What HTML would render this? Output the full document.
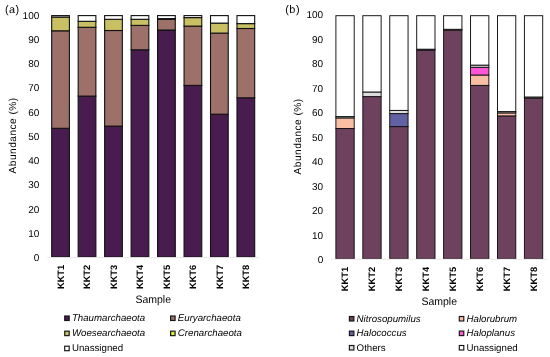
<!DOCTYPE html>
<html lang="en"><head><meta charset="utf-8"><title>Archaeal abundance</title>
<style>html,body{margin:0;padding:0;background:#fff;}body{width:550px;height:357px;overflow:hidden;}svg{display:block;}</style>
</head><body>
<svg width="550" height="357" viewBox="0 0 550 357" font-family='"Liberation Sans", sans-serif' fill="#000" stroke="none" text-rendering="geometricPrecision">
<rect width="550" height="357" fill="#ffffff" stroke="none"/>
<clipPath id="clip51"><rect x="0" y="0" width="550" height="257.30"/></clipPath>
<g clip-path="url(#clip51)" stroke="#101010" stroke-width="1.1">
<rect x="51.70" y="128.30" width="17.7" height="128.90" fill="#481c4e"/>
<rect x="51.70" y="30.80" width="17.7" height="97.50" fill="#9d7169"/>
<rect x="51.70" y="17.10" width="17.7" height="13.70" fill="#c8c062"/>
<rect x="51.70" y="15.60" width="17.7" height="1.50" fill="#ffffff"/>
<rect x="78.17" y="96.10" width="17.7" height="161.10" fill="#481c4e"/>
<rect x="78.17" y="27.30" width="17.7" height="68.80" fill="#9d7169"/>
<rect x="78.17" y="21.30" width="17.7" height="6.00" fill="#c8c062"/>
<rect x="78.17" y="15.60" width="17.7" height="5.70" fill="#ffffff"/>
<rect x="104.64" y="126.10" width="17.7" height="131.10" fill="#481c4e"/>
<rect x="104.64" y="30.50" width="17.7" height="95.60" fill="#9d7169"/>
<rect x="104.64" y="19.30" width="17.7" height="11.20" fill="#c8c062"/>
<rect x="104.64" y="15.60" width="17.7" height="3.70" fill="#ffffff"/>
<rect x="131.11" y="49.80" width="17.7" height="207.40" fill="#481c4e"/>
<rect x="131.11" y="25.40" width="17.7" height="24.40" fill="#9d7169"/>
<rect x="131.11" y="19.30" width="17.7" height="6.10" fill="#c8c062"/>
<rect x="131.11" y="15.60" width="17.7" height="3.70" fill="#ffffff"/>
<rect x="157.58" y="30.00" width="17.7" height="227.20" fill="#481c4e"/>
<rect x="157.58" y="19.30" width="17.7" height="10.70" fill="#9d7169"/>
<rect x="157.58" y="18.60" width="17.7" height="0.70" fill="#c8c062"/>
<rect x="157.58" y="15.60" width="17.7" height="3.00" fill="#ffffff"/>
<rect x="184.05" y="85.40" width="17.7" height="171.80" fill="#481c4e"/>
<rect x="184.05" y="26.10" width="17.7" height="59.30" fill="#9d7169"/>
<rect x="184.05" y="17.60" width="17.7" height="8.50" fill="#c8c062"/>
<rect x="184.05" y="15.60" width="17.7" height="2.00" fill="#ffffff"/>
<rect x="210.52" y="114.20" width="17.7" height="143.00" fill="#481c4e"/>
<rect x="210.52" y="33.10" width="17.7" height="81.10" fill="#9d7169"/>
<rect x="210.52" y="23.10" width="17.7" height="10.00" fill="#c8c062"/>
<rect x="210.52" y="15.60" width="17.7" height="7.50" fill="#ffffff"/>
<rect x="236.99" y="97.80" width="17.7" height="159.40" fill="#481c4e"/>
<rect x="236.99" y="28.50" width="17.7" height="69.30" fill="#9d7169"/>
<rect x="236.99" y="23.60" width="17.7" height="4.90" fill="#c8c062"/>
<rect x="236.99" y="15.60" width="17.7" height="8.00" fill="#ffffff"/>
</g>
<line x1="47.2" y1="257.60" x2="259.0" y2="257.60" stroke="#e4e4e4" stroke-width="0.8"/>
<text x="39.3" y="261.15" text-anchor="end" font-size="10">0</text>
<text x="39.3" y="236.89" text-anchor="end" font-size="10">10</text>
<text x="39.3" y="212.63" text-anchor="end" font-size="10">20</text>
<text x="39.3" y="188.37" text-anchor="end" font-size="10">30</text>
<text x="39.3" y="164.11" text-anchor="end" font-size="10">40</text>
<text x="39.3" y="139.85" text-anchor="end" font-size="10">50</text>
<text x="39.3" y="115.59" text-anchor="end" font-size="10">60</text>
<text x="39.3" y="91.33" text-anchor="end" font-size="10">70</text>
<text x="39.3" y="67.07" text-anchor="end" font-size="10">80</text>
<text x="39.3" y="42.81" text-anchor="end" font-size="10">90</text>
<text x="39.3" y="18.55" text-anchor="end" font-size="10">100</text>
<clipPath id="clip335"><rect x="0" y="0" width="550" height="259.00"/></clipPath>
<g clip-path="url(#clip335)" stroke="#101010" stroke-width="0.95">
<rect x="335.90" y="128.50" width="18.3" height="130.40" fill="#6e425e"/>
<rect x="335.90" y="117.90" width="18.3" height="10.60" fill="#fabea5"/>
<rect x="335.90" y="116.60" width="18.3" height="1.30" fill="#dcdedc"/>
<rect x="335.90" y="15.70" width="18.3" height="100.90" fill="#ffffff"/>
<rect x="362.83" y="96.60" width="18.3" height="162.30" fill="#6e425e"/>
<rect x="362.83" y="92.00" width="18.3" height="4.60" fill="#dcdedc"/>
<rect x="362.83" y="15.70" width="18.3" height="76.30" fill="#ffffff"/>
<rect x="389.76" y="126.60" width="18.3" height="132.30" fill="#6e425e"/>
<rect x="389.76" y="113.60" width="18.3" height="13.00" fill="#6161a4"/>
<rect x="389.76" y="110.40" width="18.3" height="3.20" fill="#dcdedc"/>
<rect x="389.76" y="15.70" width="18.3" height="94.70" fill="#ffffff"/>
<rect x="416.69" y="50.00" width="18.3" height="208.90" fill="#6e425e"/>
<rect x="416.69" y="49.20" width="18.3" height="0.80" fill="#dcdedc"/>
<rect x="416.69" y="15.70" width="18.3" height="33.50" fill="#ffffff"/>
<rect x="443.62" y="30.10" width="18.3" height="228.80" fill="#6e425e"/>
<rect x="443.62" y="29.30" width="18.3" height="0.80" fill="#dcdedc"/>
<rect x="443.62" y="15.70" width="18.3" height="13.60" fill="#ffffff"/>
<rect x="470.55" y="85.40" width="18.3" height="173.50" fill="#6e425e"/>
<rect x="470.55" y="75.00" width="18.3" height="10.40" fill="#fabea5"/>
<rect x="470.55" y="67.30" width="18.3" height="7.70" fill="#ff55d7"/>
<rect x="470.55" y="65.10" width="18.3" height="2.20" fill="#dcdedc"/>
<rect x="470.55" y="15.70" width="18.3" height="49.40" fill="#ffffff"/>
<rect x="497.48" y="115.90" width="18.3" height="143.00" fill="#6e425e"/>
<rect x="497.48" y="112.90" width="18.3" height="3.00" fill="#fabea5"/>
<rect x="497.48" y="111.60" width="18.3" height="1.30" fill="#dcdedc"/>
<rect x="497.48" y="15.70" width="18.3" height="95.90" fill="#ffffff"/>
<rect x="524.41" y="98.20" width="18.3" height="160.70" fill="#6e425e"/>
<rect x="524.41" y="97.00" width="18.3" height="1.20" fill="#dcdedc"/>
<rect x="524.41" y="15.70" width="18.3" height="81.30" fill="#ffffff"/>
</g>
<line x1="331.4" y1="259.30" x2="547.2" y2="259.30" stroke="#e4e4e4" stroke-width="0.8"/>
<text x="323.2" y="263.05" text-anchor="end" font-size="10">0</text>
<text x="323.2" y="238.59" text-anchor="end" font-size="10">10</text>
<text x="323.2" y="214.13" text-anchor="end" font-size="10">20</text>
<text x="323.2" y="189.67" text-anchor="end" font-size="10">30</text>
<text x="323.2" y="165.21" text-anchor="end" font-size="10">40</text>
<text x="323.2" y="140.75" text-anchor="end" font-size="10">50</text>
<text x="323.2" y="116.29" text-anchor="end" font-size="10">60</text>
<text x="323.2" y="91.83" text-anchor="end" font-size="10">70</text>
<text x="323.2" y="67.37" text-anchor="end" font-size="10">80</text>
<text x="323.2" y="42.91" text-anchor="end" font-size="10">90</text>
<text x="323.2" y="18.45" text-anchor="end" font-size="10">100</text>
<text x="4.9" y="13.1" font-size="10.9" letter-spacing="0.45">(a)</text>
<text x="285.3" y="12.9" font-size="10.9" letter-spacing="0.45">(b)</text>
<text transform="translate(16.3,135.4) rotate(-90)" text-anchor="middle" font-size="10.2" letter-spacing="0.45">Abundance (%)</text>
<text transform="translate(300.6,136.4) rotate(-90)" text-anchor="middle" font-size="10.2" letter-spacing="0.45">Abundance (%)</text>
<text transform="translate(153.2,303.3) scale(0.965,1)" text-anchor="middle" font-size="10.9">Sample</text>
<text transform="translate(439.2,305.1) scale(0.965,1)" text-anchor="middle" font-size="10.9">Sample</text>
<text transform="translate(63.85,264.8) rotate(-90)" text-anchor="end" font-size="9.3" font-weight="bold">KKT1</text>
<text transform="translate(348.35,266.9) rotate(-90)" text-anchor="end" font-size="9.3" font-weight="bold">KKT1</text>
<text transform="translate(90.32,264.8) rotate(-90)" text-anchor="end" font-size="9.3" font-weight="bold">KKT2</text>
<text transform="translate(375.28,266.9) rotate(-90)" text-anchor="end" font-size="9.3" font-weight="bold">KKT2</text>
<text transform="translate(116.79,264.8) rotate(-90)" text-anchor="end" font-size="9.3" font-weight="bold">KKT3</text>
<text transform="translate(402.21,266.9) rotate(-90)" text-anchor="end" font-size="9.3" font-weight="bold">KKT3</text>
<text transform="translate(143.26,264.8) rotate(-90)" text-anchor="end" font-size="9.3" font-weight="bold">KKT4</text>
<text transform="translate(429.14,266.9) rotate(-90)" text-anchor="end" font-size="9.3" font-weight="bold">KKT4</text>
<text transform="translate(169.73,264.8) rotate(-90)" text-anchor="end" font-size="9.3" font-weight="bold">KKT5</text>
<text transform="translate(456.07,266.9) rotate(-90)" text-anchor="end" font-size="9.3" font-weight="bold">KKT5</text>
<text transform="translate(196.20,264.8) rotate(-90)" text-anchor="end" font-size="9.3" font-weight="bold">KKT6</text>
<text transform="translate(483.00,266.9) rotate(-90)" text-anchor="end" font-size="9.3" font-weight="bold">KKT6</text>
<text transform="translate(222.67,264.8) rotate(-90)" text-anchor="end" font-size="9.3" font-weight="bold">KKT7</text>
<text transform="translate(509.93,266.9) rotate(-90)" text-anchor="end" font-size="9.3" font-weight="bold">KKT7</text>
<text transform="translate(249.14,264.8) rotate(-90)" text-anchor="end" font-size="9.3" font-weight="bold">KKT8</text>
<text transform="translate(536.86,266.9) rotate(-90)" text-anchor="end" font-size="9.3" font-weight="bold">KKT8</text>
<rect x="64.70" y="316.00" width="4.5" height="4.5" fill="#481c4e" stroke="#141414" stroke-width="1.15"/><text x="71.90" y="321.10" font-size="9.7" letter-spacing="0" font-style="italic">Thaumarchaeota</text>
<rect x="170.60" y="316.00" width="4.5" height="4.5" fill="#9d7169" stroke="#141414" stroke-width="1.15"/><text x="177.80" y="321.10" font-size="9.7" letter-spacing="0" font-style="italic">Euryarchaeota</text>
<rect x="64.70" y="331.15" width="4.5" height="4.5" fill="#c8c062" stroke="#141414" stroke-width="1.15"/><text x="71.90" y="336.25" font-size="9.7" letter-spacing="0" font-style="italic">Woesearchaeota</text>
<rect x="170.60" y="331.15" width="4.5" height="4.5" fill="#cfee38" stroke="#141414" stroke-width="1.15"/><text x="177.80" y="336.25" font-size="9.7" letter-spacing="0" font-style="italic">Crenarchaeota</text>
<rect x="64.70" y="346.20" width="4.5" height="4.5" fill="#ffffff" stroke="#141414" stroke-width="1.15"/><text x="71.90" y="351.30" font-size="9.7" letter-spacing="0">Unassigned</text>
<rect x="349.40" y="316.50" width="4.5" height="4.5" fill="#6e425e" stroke="#141414" stroke-width="1.15"/><text x="356.60" y="321.60" font-size="9.7" letter-spacing="0" font-style="italic">Nitrosopumilus</text>
<rect x="459.30" y="316.50" width="4.5" height="4.5" fill="#fabea5" stroke="#141414" stroke-width="1.15"/><text x="466.50" y="321.60" font-size="9.7" letter-spacing="0" font-style="italic">Halorubrum</text>
<rect x="349.40" y="331.10" width="4.5" height="4.5" fill="#6161a4" stroke="#141414" stroke-width="1.15"/><text x="356.60" y="336.20" font-size="9.7" letter-spacing="0" font-style="italic">Halococcus</text>
<rect x="459.30" y="331.10" width="4.5" height="4.5" fill="#ff55d7" stroke="#141414" stroke-width="1.15"/><text x="466.50" y="336.20" font-size="9.7" letter-spacing="0" font-style="italic">Haloplanus</text>
<rect x="349.40" y="345.50" width="4.5" height="4.5" fill="#dcdedc" stroke="#141414" stroke-width="1.15"/><text x="356.60" y="350.60" font-size="9.7" letter-spacing="0">Others</text>
<rect x="459.30" y="345.50" width="4.5" height="4.5" fill="#ffffff" stroke="#141414" stroke-width="1.15"/><text x="466.50" y="350.60" font-size="9.7" letter-spacing="0">Unassigned</text>
</svg>
</body></html>
